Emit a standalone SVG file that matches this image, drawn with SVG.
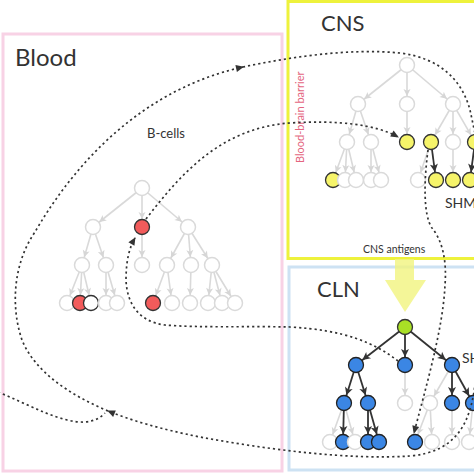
<svg xmlns="http://www.w3.org/2000/svg" width="474" height="474" viewBox="0 0 474 474">
<style>
.box{fill:none;stroke-width:3}
.lbl{font-family:Lato,"Open Sans","Liberation Sans",sans-serif;fill:#333}
.eg{stroke:#d9d9d9;stroke-width:1.6;fill:none;marker-end:url(#ag)}
.ed{stroke:#333;stroke-width:1.8;fill:none;marker-end:url(#ad)}
.ng{fill:#fff;stroke:#dadada;stroke-width:1.5}
.nr{fill:#f25b5b;stroke:#333;stroke-width:1.3}
.nw{fill:#fff;stroke:#333;stroke-width:1.3}
.ny{fill:#f6f46a;stroke:#333;stroke-width:1.3}
.nb{fill:#3b86e4;stroke:#222;stroke-width:1.3}
.nl{fill:#a9e026;stroke:#333;stroke-width:1.3}
.dash{fill:none;stroke:#333;stroke-width:1.7;stroke-dasharray:2.2 3}
.dm{marker-end:url(#ac)}
</style>
<defs>
<marker id="ag" markerUnits="userSpaceOnUse" markerWidth="30" markerHeight="30" refX="15" refY="3.5" orient="auto" overflow="visible"><path d="M0,0 L7,3.5 L0,7 L1.8,3.5z" fill="#d6d6d6"/></marker>
<marker id="ad" markerUnits="userSpaceOnUse" markerWidth="30" markerHeight="30" refX="16" refY="4" orient="auto" overflow="visible"><path d="M0,0 L8,4 L0,8 L2,4z" fill="#333"/></marker>
<marker id="ac" markerUnits="userSpaceOnUse" markerWidth="20" markerHeight="20" refX="7" refY="3.5" orient="auto" overflow="visible"><path d="M0,0 L8,3.5 L0,7z" fill="#333"/></marker>
</defs>
<rect width="474" height="474" fill="#fff"/>
<g id="boxes">
<rect class="box" x="3" y="34" width="279" height="437" stroke="#f8d2e5"/>
<rect class="box" x="288" y="1.5" width="200" height="257" stroke="#eef23c"/>
<rect class="box" x="289" y="267" width="200" height="203" stroke="#cde2f3"/>
</g>
<g id="labels">
<text class="lbl" x="15" y="66" font-size="24">Blood</text>
<text class="lbl" x="321" y="31" font-size="22">CNS</text>
<text class="lbl" x="317" y="297" font-size="22">CLN</text>
<text class="lbl" x="147" y="138" font-size="13">B-cells</text>
<text class="lbl" x="363" y="253" font-size="10.5">CNS antigens</text>
<text class="lbl" x="445" y="208" font-size="14">SHM</text>
<text class="lbl" x="462" y="363" font-size="14">SHM</text>
<text class="lbl" transform="translate(304,163) rotate(-90)" font-size="11" style="fill:#e4657e">Blood-brain barrier</text>
</g>
<g id="blood-edges">
<line class="eg" x1="142" y1="188" x2="93" y2="227"/><line class="eg" x1="142" y1="188" x2="142" y2="227"/><line class="eg" x1="142" y1="188" x2="188" y2="227"/>
<line class="eg" x1="93" y1="227" x2="82" y2="265"/><line class="eg" x1="93" y1="227" x2="106" y2="265"/><line class="eg" x1="142" y1="227" x2="142" y2="265"/>
<line class="eg" x1="188" y1="227" x2="167" y2="265"/><line class="eg" x1="188" y1="227" x2="191" y2="265"/><line class="eg" x1="188" y1="227" x2="212" y2="265"/>
<line class="eg" x1="82" y1="265" x2="67" y2="303"/><line class="eg" x1="82" y1="265" x2="80" y2="303"/><line class="eg" x1="82" y1="265" x2="91" y2="303"/>
<line class="eg" x1="106" y1="265" x2="106" y2="303"/><line class="eg" x1="106" y1="265" x2="117" y2="303"/>
<line class="eg" x1="167" y1="265" x2="153" y2="303"/><line class="eg" x1="167" y1="265" x2="172" y2="303"/><line class="eg" x1="191" y1="265" x2="190" y2="303"/>
<line class="eg" x1="212" y1="265" x2="208" y2="303"/><line class="eg" x1="212" y1="265" x2="222" y2="303"/><line class="eg" x1="212" y1="265" x2="235" y2="303"/>
</g>
<g id="b-R"><circle class="ng" cx="142" cy="188" r="7.5"/></g>
<g id="b-A"><circle class="ng" cx="93" cy="227" r="7.5"/></g>
<g id="b-B"><circle class="nr" cx="142" cy="227" r="7.5"/></g>
<g id="b-C"><circle class="ng" cx="188" cy="227" r="7.5"/></g>
<g id="b-A1"><circle class="ng" cx="82" cy="265" r="7.5"/></g>
<g id="b-A2"><circle class="ng" cx="106" cy="265" r="7.5"/></g>
<g id="b-B1"><circle class="ng" cx="142" cy="265" r="7.5"/></g>
<g id="b-C1"><circle class="ng" cx="167" cy="265" r="7.5"/></g>
<g id="b-C2"><circle class="ng" cx="191" cy="265" r="7.5"/></g>
<g id="b-C3"><circle class="ng" cx="212" cy="265" r="7.5"/></g>
<g id="b-D1"><circle class="ng" cx="67" cy="303" r="7.5"/></g>
<g id="b-D2"><circle class="nr" cx="80" cy="303" r="7.5"/></g>
<g id="b-D3"><circle class="nw" cx="91" cy="303" r="7.5"/></g>
<g id="b-D4"><circle class="ng" cx="106" cy="303" r="7.5"/></g>
<g id="b-D5"><circle class="ng" cx="117" cy="303" r="7.5"/></g>
<g id="b-D6"><circle class="nr" cx="153" cy="303" r="7.5"/></g>
<g id="b-D7"><circle class="ng" cx="172" cy="303" r="7.5"/></g>
<g id="b-D8"><circle class="ng" cx="190" cy="303" r="7.5"/></g>
<g id="b-D9"><circle class="ng" cx="208" cy="303" r="7.5"/></g>
<g id="b-D10"><circle class="ng" cx="222" cy="303" r="7.5"/></g>
<g id="b-D11"><circle class="ng" cx="235" cy="303" r="7.5"/></g>
<g id="cns-edges">
<line class="eg" x1="407" y1="65" x2="358" y2="104"/><line class="eg" x1="407" y1="65" x2="407" y2="104"/><line class="eg" x1="407" y1="65" x2="453" y2="104"/>
<line class="eg" x1="358" y1="104" x2="347" y2="142"/><line class="eg" x1="358" y1="104" x2="371" y2="142"/><line class="eg" x1="407" y1="104" x2="407" y2="142"/>
<line class="eg" x1="453" y1="104" x2="431" y2="142"/><line class="eg" x1="453" y1="104" x2="453" y2="142"/><line class="eg" x1="453" y1="104" x2="475" y2="142"/>
<line class="eg" x1="347" y1="142" x2="333" y2="180"/><line class="eg" x1="347" y1="142" x2="345" y2="180"/><line class="eg" x1="347" y1="142" x2="356" y2="180"/>
<line class="eg" x1="371" y1="142" x2="371" y2="180"/><line class="eg" x1="371" y1="142" x2="381" y2="180"/>
<line class="eg" x1="431" y1="142" x2="418" y2="180"/><line class="ed" x1="431" y1="142" x2="436" y2="180"/><line class="eg" x1="453" y1="142" x2="453" y2="180"/>
<line class="ed" x1="475" y1="142" x2="470" y2="180"/>
</g>
<g id="c-R"><circle class="ng" cx="407" cy="65" r="7.5"/></g>
<g id="c-A"><circle class="ng" cx="358" cy="104" r="7.5"/></g>
<g id="c-B"><circle class="ng" cx="407" cy="104" r="7.5"/></g>
<g id="c-C"><circle class="ng" cx="453" cy="104" r="7.5"/></g>
<g id="c-A1"><circle class="ng" cx="347" cy="142" r="7.5"/></g>
<g id="c-A2"><circle class="ng" cx="371" cy="142" r="7.5"/></g>
<g id="c-B1"><circle class="ny" cx="407" cy="142" r="7.5"/></g>
<g id="c-C1"><circle class="ny" cx="431" cy="142" r="7.5"/></g>
<g id="c-C2"><circle class="ng" cx="453" cy="142" r="7.5"/></g>
<g id="c-C3"><circle class="ny" cx="475" cy="142" r="7.5"/></g>
<g id="c-D1"><circle class="ny" cx="333" cy="180" r="7.5"/></g>
<g id="c-D2"><circle class="ng" cx="345" cy="180" r="7.5"/></g>
<g id="c-D3"><circle class="ng" cx="356" cy="180" r="7.5"/></g>
<g id="c-D4"><circle class="ng" cx="371" cy="180" r="7.5"/></g>
<g id="c-D5"><circle class="ng" cx="381" cy="180" r="7.5"/></g>
<g id="c-D6"><circle class="ng" cx="418" cy="180" r="7.5"/></g>
<g id="c-D7"><circle class="ny" cx="436" cy="180" r="7.5"/></g>
<g id="c-D8"><circle class="ny" cx="453" cy="180" r="7.5"/></g>
<g id="c-D9"><circle class="ny" cx="470" cy="180" r="7.5"/></g>
<g id="cln-edges">
<line class="ed" x1="405" y1="327" x2="356" y2="365"/><line class="ed" x1="405" y1="327" x2="405" y2="365"/><line class="ed" x1="405" y1="327" x2="452" y2="365"/>
<line class="ed" x1="356" y1="365" x2="344" y2="403"/><line class="ed" x1="356" y1="365" x2="368" y2="403"/><line class="eg" x1="405" y1="365" x2="405" y2="403"/>
<line class="eg" x1="452" y1="365" x2="430" y2="403"/><line class="ed" x1="452" y1="365" x2="452" y2="403"/><line class="ed" x1="452" y1="365" x2="473" y2="403"/>
<line class="eg" x1="344" y1="403" x2="330" y2="442"/><line class="ed" x1="344" y1="403" x2="343" y2="442"/><line class="eg" x1="344" y1="403" x2="355" y2="442"/>
<line class="ed" x1="368" y1="403" x2="368" y2="442"/><line class="ed" x1="368" y1="403" x2="379" y2="442"/>
<line class="eg" x1="430" y1="403" x2="415" y2="442"/><line class="eg" x1="430" y1="403" x2="432" y2="442"/><line class="eg" x1="452" y1="403" x2="452" y2="442"/>
<line class="eg" x1="473" y1="403" x2="469" y2="442"/>
</g>
<g id="l-R"><circle class="nl" cx="405" cy="327" r="7.5"/></g>
<g id="l-A"><circle class="nb" cx="356" cy="365" r="7.5"/></g>
<g id="l-B"><circle class="nb" cx="405" cy="365" r="7.5"/></g>
<g id="l-C"><circle class="nb" cx="452" cy="365" r="7.5"/></g>
<g id="l-A1"><circle class="nb" cx="344" cy="403" r="7.5"/></g>
<g id="l-A2"><circle class="nb" cx="368" cy="403" r="7.5"/></g>
<g id="l-B1"><circle class="ng" cx="405" cy="403" r="7.5"/></g>
<g id="l-C1"><circle class="ng" cx="430" cy="403" r="7.5"/></g>
<g id="l-C2"><circle class="nb" cx="452" cy="403" r="7.5"/></g>
<g id="l-C3"><circle class="nb" cx="473" cy="403" r="7.5"/></g>
<g id="l-D1"><circle class="ng" cx="330" cy="442" r="7.5"/></g>
<g id="l-D2"><circle class="nb" cx="343" cy="442" r="7.5"/></g>
<g id="l-D3"><circle class="ng" cx="355" cy="442" r="7.5"/></g>
<g id="l-D4"><circle class="nb" cx="368" cy="442" r="7.5"/></g>
<g id="l-D5"><circle class="nb" cx="379" cy="442" r="7.5"/></g>
<g id="l-D6"><circle class="nb" cx="415" cy="442" r="7.5"/></g>
<g id="l-D7"><circle class="ng" cx="432" cy="442" r="7.5"/></g>
<g id="l-D8"><circle class="ng" cx="452" cy="442" r="7.5"/></g>
<g id="l-D9"><circle class="ng" cx="469" cy="442" r="7.5"/></g>
<g id="big-arrow"><polygon points="395,259 414,259 414,280 426,280 405,312 385,280 395,280" fill="#f1f47e" opacity="0.8"/></g>
<g id="connectors">
<path class="dash dm" d="M476,372 C473,425 455,452 410,456 C350,460 270,450 200,437 C160,429 130,420 108,411"/>
<path class="dash dm" d="M108,411 C70,395 35,372 22,340 C10,305 14,262 35,232 C65,180 130,92 243,67"/>
<path class="dash" d="M243,67 C290,57 350,48 400,53 C440,58 462,80 470,110 L476,138"/>
<path class="dash" d="M-2,392 C30,405 60,423 85,422 C95,421 100,418 105,413"/>
<path class="dash dm" d="M146,219 C180,175 220,128 290,123 C335,120 375,124 398,137"/>
<path class="dash dm" d="M398,361 C375,343 345,330 290,327 C250,326 200,328 165,325 C140,322 127,305 126,280 C126,262 129,248 135,238"/>
<path class="dash dm" d="M428,150 C424,180 423,215 432,228 C442,240 447,260 445,285 C443,330 425,390 414,433"/>
</g>
</svg>
